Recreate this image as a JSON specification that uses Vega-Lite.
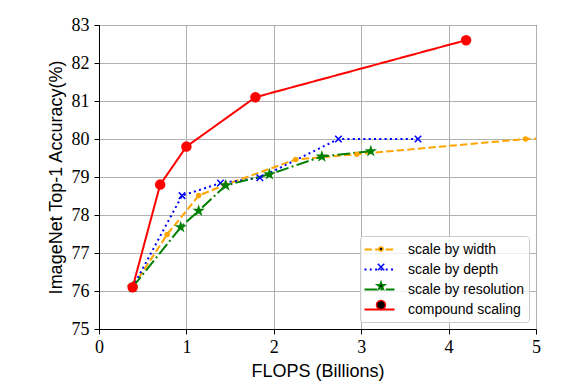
{
  "$schema": "https://vega.github.io/schema/vega-lite/v6.json",
  "width": 437,
  "height": 304,
  "autosize": "none",
  "padding": {"left": 99, "top": 25, "right": 37, "bottom": 62},
  "background": "white",
  "config": {
    "view": {"stroke": "black", "strokeWidth": 1},
    "axis": {
      "domainColor": "black", "domainWidth": 1,
      "tickColor": "black", "tickSize": 5, "tickWidth": 1,
      "gridColor": "#b0b0b0", "gridWidth": 1, "labelFlush": false,
      "labelFont": "Liberation Serif", "labelFontSize": 18, "labelColor": "black",
      "titleFont": "Liberation Sans", "titleFontSize": 18, "titleFontWeight": "normal", "titleColor": "black"
    }
  },
  "data": {"values": [
    {"series": "scale by width", "flops": 0.385, "acc": 76.1},
    {"series": "scale by width", "flops": 0.78, "acc": 77.49},
    {"series": "scale by width", "flops": 1.14, "acc": 78.51},
    {"series": "scale by width", "flops": 1.45, "acc": 78.8},
    {"series": "scale by width", "flops": 2.25, "acc": 79.46},
    {"series": "scale by width", "flops": 2.95, "acc": 79.6},
    {"series": "scale by width", "flops": 4.88, "acc": 80.0},
    {"series": "scale by width", "flops": 5.5, "acc": 80.06},
    {"series": "scale by depth", "flops": 0.385, "acc": 76.1},
    {"series": "scale by depth", "flops": 0.95, "acc": 78.51},
    {"series": "scale by depth", "flops": 1.39, "acc": 78.84},
    {"series": "scale by depth", "flops": 1.84, "acc": 78.98},
    {"series": "scale by depth", "flops": 2.74, "acc": 80.0},
    {"series": "scale by depth", "flops": 3.65, "acc": 80.0},
    {"series": "scale by resolution", "flops": 0.385, "acc": 76.1},
    {"series": "scale by resolution", "flops": 0.935, "acc": 77.68},
    {"series": "scale by resolution", "flops": 1.14, "acc": 78.11},
    {"series": "scale by resolution", "flops": 1.45, "acc": 78.78},
    {"series": "scale by resolution", "flops": 1.95, "acc": 79.07},
    {"series": "scale by resolution", "flops": 2.55, "acc": 79.54},
    {"series": "scale by resolution", "flops": 3.11, "acc": 79.68},
    {"series": "compound scaling", "flops": 0.385, "acc": 76.1},
    {"series": "compound scaling", "flops": 0.7, "acc": 78.8},
    {"series": "compound scaling", "flops": 1.0, "acc": 79.8},
    {"series": "compound scaling", "flops": 1.79, "acc": 81.1},
    {"series": "compound scaling", "flops": 4.2, "acc": 82.6}
  ]},
  "encoding": {
    "x": {"field": "flops", "type": "quantitative",
      "scale": {"domain": [0, 5], "nice": false, "zero": false},
      "axis": {"values": [0,1,2,3,4,5], "title": "FLOPS (Billions)", "labelPadding": 4,
        "titleBaseline": "alphabetic", "titleY": 47, "titleX": 218.5}},
    "y": {"field": "acc", "type": "quantitative",
      "scale": {"domain": [75, 83], "nice": false, "zero": false},
      "axis": {"values": [75,76,77,78,79,80,81,82,83], "title": "ImageNet Top-1 Accuracy(%)", "labelPadding": 5,
        "titleBaseline": "alphabetic", "titleAngle": -90, "titleX": -38, "titleY": 152, "titleAlign": "center"}}
  },
  "layer": [
    {
      "mark": {"type": "line", "strokeWidth": 2, "clip": true},
      "encoding": {
        "color": {"field": "series", "type": "nominal",
          "scale": {"domain": ["scale by width", "scale by depth", "scale by resolution", "compound scaling"],
                    "range": ["#ffa500", "#0000ff", "#008000", "#ff0000"]},
          "legend": {"orient": "bottom-right", "offset": 7, "title": null,
            "fillColor": "rgba(255,255,255,0.8)", "strokeColor": "#cccccc", "cornerRadius": 3,
            "padding": 5, "symbolType": "M-2,0H2", "symbolSize": 225, "symbolStrokeWidth": 2,
            "symbolOffset": 6, "labelOffset": 20, "rowPadding": 4,
            "labelFont": "Liberation Sans", "labelFontSize": 14, "labelColor": "black"}},
        "strokeDash": {"field": "series", "type": "nominal",
          "scale": {"domain": ["scale by width", "scale by depth", "scale by resolution", "compound scaling"],
                    "range": [[7.4, 3.2], [2, 3.3], [12.8, 3.2, 2, 3.2], [1, 0]]},
          "legend": {"orient": "bottom-right", "offset": 7, "title": null,
            "fillColor": "rgba(255,255,255,0.8)", "strokeColor": "#cccccc", "cornerRadius": 3,
            "padding": 5, "symbolType": "M-2,0H2", "symbolSize": 225, "symbolStrokeWidth": 2,
            "symbolOffset": 6, "labelOffset": 20, "rowPadding": 4,
            "labelFont": "Liberation Sans", "labelFontSize": 14, "labelColor": "black"}}
      }
    },
    {
      "mark": {"type": "point", "filled": true, "size": 100, "strokeWidth": 1.5, "opacity": 1, "clip": true},
      "encoding": {
        "color": {"field": "series", "type": "nominal", "legend": null},
        "stroke": {"field": "series", "type": "nominal", "legend": null,
          "scale": {"domain": ["scale by width", "scale by depth", "scale by resolution", "compound scaling"],
                    "range": ["#ffa500", "#0000ff", "#008000", "#ff0000"]}},
        "shape": {"field": "series", "type": "nominal",
          "scale": {"domain": ["scale by width", "scale by depth", "scale by resolution", "compound scaling"],
                    "range": [
                      "M-0.4,0A0.4,0.4,0,1,0,0.4,0A0.4,0.4,0,1,0,-0.4,0Z",
                      "M-0.65,-0.65L0.65,0.65M-0.65,0.65L0.65,-0.65",
                      "M0,-0.82L0.184,-0.253L0.78,-0.253L0.298,0.097L0.482,0.663L0,0.313L-0.482,0.663L-0.298,0.097L-0.78,-0.253L-0.184,-0.253Z",
                      "M-0.9,0A0.9,0.9,0,1,0,0.9,0A0.9,0.9,0,1,0,-0.9,0Z"
                    ]},
          "legend": {"orient": "none", "legendX": 264, "legendY": 212, "title": null,
            "padding": 5, "symbolSize": 100, "symbolOffset": 6, "labelOffset": 20, "rowPadding": 4,
            "labelFont": "Liberation Sans", "labelFontSize": 14, "labelExpr": "''",
            "encode": {"symbols": {"update": {
              "fill": {"scale": "color", "field": "value"},
              "stroke": {"scale": "color", "field": "value"},
              "strokeWidth": {"value": 1.5},
              "opacity": {"value": 1}
            }}}}}
      }
    }
  ]
}
